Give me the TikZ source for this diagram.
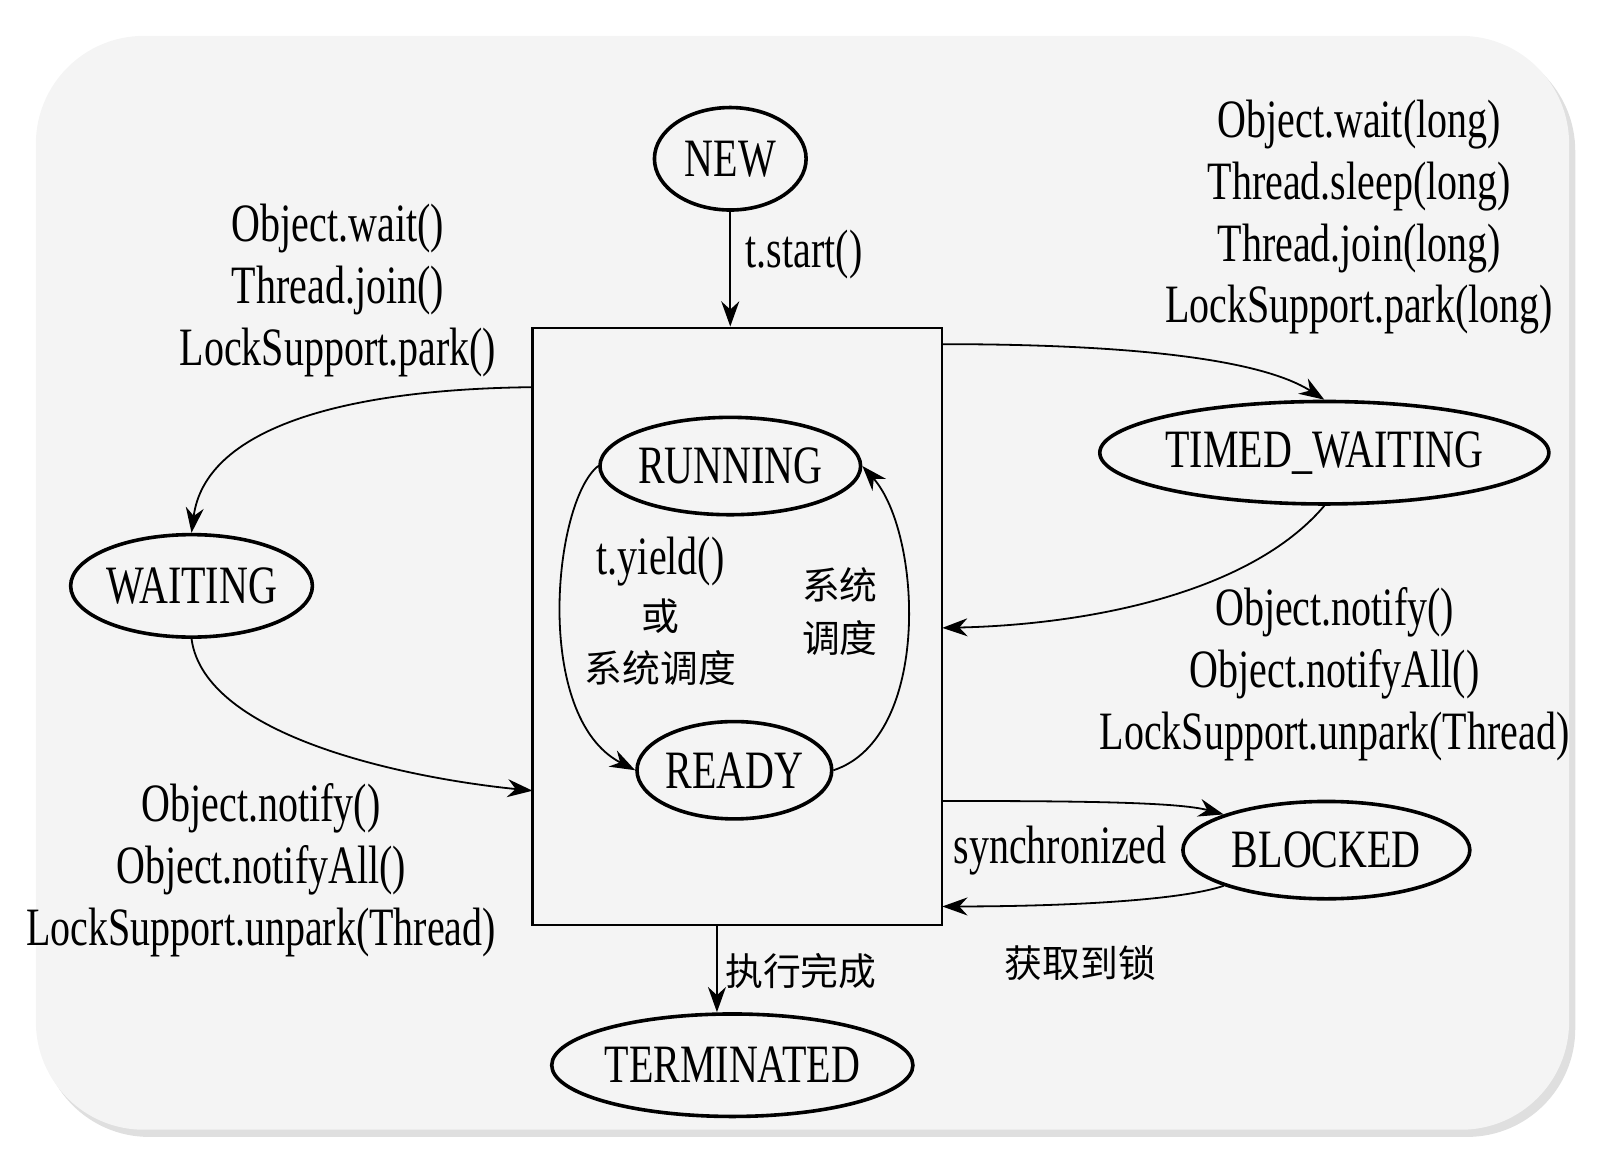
\documentclass[tikz,border=0pt]{standalone}
\usepackage{fontspec}
\setmainfont[FakeStretch=0.74]{Liberation Serif}
\newfontfamily\cjk{Noto Sans CJK SC}
\usetikzlibrary{arrows.meta,shapes.geometric}
\definecolor{cardgray}{RGB}{244,244,244}
\tikzstyle{state}=[draw,ellipse,line width=1pt,inner sep=0,font=\fontsize{15}{17}\selectfont]
\tikzstyle{lbl}=[inner sep=0,align=center,font=\fontsize{15}{17.2}\selectfont]
\tikzstyle{zh}=[inner sep=0,align=center,font=\cjk\fontsize{10.5}{14.5}\selectfont]
\tikzstyle{edge}=[line width=0.5pt,-{Stealth[length=7pt,width=5pt]}]
\begin{document}
\begin{tikzpicture}[x=0.01cm,y=-0.01cm]
\useasboundingbox (0,0) rectangle (1568,1138);
\fill[gray!25,rounded corners=30pt] (40,42) rectangle (1538,1110);
\fill[cardgray,rounded corners=30pt] (35,35) rectangle (1532,1103);
% states
\node[state,minimum width=1.48cm,minimum height=1cm] (new) at (713,155) {NEW};
\node[draw,line width=0.6pt,minimum width=4cm,minimum height=5.83cm,inner sep=0] (box) at (720,611.5) {};
\node[state,minimum width=2.5cm,minimum height=0.95cm] (run) at (713,455) {RUNNING};
\node[state,minimum width=1.8cm,minimum height=0.95cm] (ready) at (717,752) {READY};
\node[state,minimum width=2.25cm,minimum height=1cm] (wait) at (187,572) {WAITING};
\node[state,minimum width=3.65cm,minimum height=1cm] (timed) at (1293,442) {TIMED\_WAITING};
\node[state,minimum width=2.8cm,minimum height=0.95cm] (blocked) at (1295,830) {BLOCKED};
\node[state,minimum width=3.05cm,minimum height=1cm] (term) at (715,1040) {TERMINATED};
% connectors
\draw[edge] (new) -- (box.north -| new);
\node[lbl] at (785,248) {t.start()};
\coordinate (b1) at (520,378);
\draw[edge] (b1) .. controls (330,380) and (200,420) .. (wait.north);
\node[lbl] at (330,284) {Object.wait()\\Thread.join()\\LockSupport.park()};
\coordinate (b2) at (520,772);
\draw[edge] (wait.south) .. controls (200,720) and (400,760) .. (b2);
\node[lbl] at (255,850) {Object.notify()\\Object.notifyAll()\\LockSupport.unpark(Thread)};
\coordinate (b3) at (920,336);
\draw[edge] (b3) .. controls (1100,336) and (1230,350) .. (timed.north);
\node[lbl] at (1327,212) {Object.wait(long)\\Thread.sleep(long)\\Thread.join(long)\\LockSupport.park(long)};
\coordinate (b4) at (920,613);
\draw[edge] (timed.south) .. controls (1220,580) and (1060,610) .. (b4);
\node[lbl] at (1303,658) {Object.notify()\\Object.notifyAll()\\LockSupport.unpark(Thread)};
\coordinate (b5) at (920,782);
\draw[edge] (b5) .. controls (1050,782) and (1150,783) .. (blocked.north west);
\node[lbl] at (1035,830) {synchronized};
\coordinate (b6) at (920,885);
\draw[edge] (blocked.south west) .. controls (1150,880) and (1030,885) .. (b6);
\node[zh] at (1055,940) {获取到锁};
\coordinate (b7) at (700,903);
\draw[edge] (b7) -- (term.north -| b7);
\node[zh] at (782,948) {执行完成};
\draw[edge] (run.west) .. controls (540,490) and (520,700) .. (ready.west);
\node[lbl] (yl) at (645,548) {t.yield()};
\node[zh] at (645,627) {或\\系统调度};
\draw[edge] (ready.east) .. controls (910,720) and (900,520) .. (run.east);
\node[zh] at (820,597) {系统\\调度};
\end{tikzpicture}
\end{document}
